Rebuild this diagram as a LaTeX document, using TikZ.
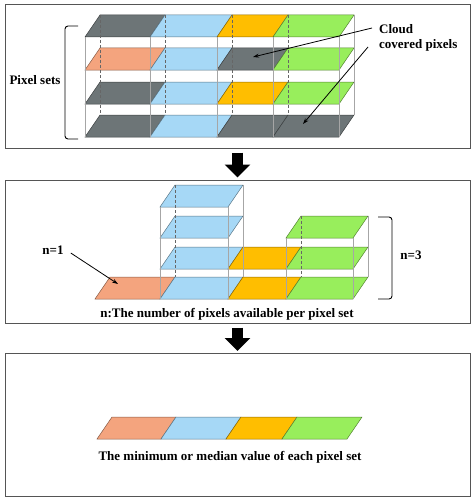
\documentclass[tikz,border=0pt]{standalone}
\usepackage{fontspec}
\setmainfont{Liberation Serif}
\usetikzlibrary{arrows.meta}

\definecolor{cloudgray}{RGB}{109,117,119}
\definecolor{skyblue}{RGB}{166,216,246}
\definecolor{amber}{RGB}{255,190,0}
\definecolor{lime}{RGB}{152,238,92}
\definecolor{salmon}{RGB}{244,164,126}
\definecolor{framegray}{RGB}{85,85,85}

\tikzset{
  panel/.style={draw=framegray, line width=1pt, minimum width=465pt, minimum height=143pt, inner sep=0pt},
  lbl/.style={font=\fontsize{13}{15}\selectfont\bfseries, inner sep=1pt},
  pillar/.style={draw=gray!70, line width=0.4pt},
  hiddenpillar/.style={draw=gray!80!black, line width=0.5pt, dashed, dash pattern=on 3pt off 2pt},
  pointer/.style={line width=0.8pt, -{Stealth[length=6pt,width=4pt]}},
  blockarrow/.style={line width=11pt, -{Triangle[width=25pt,length=13pt]}, shorten <=4pt, shorten >=2pt},
  setbracket/.style={line width=0.9pt, rounded corners=3pt}
}

% one pixel of a pixel set: front-left x, front-right x, front y, colour
\newcommand{\pixcell}[4]{%
  \filldraw[fill=#4, draw=#4!55!black, line width=0.5pt]
    (#1,#3) -- (#2,#3) -- (#2+15,#3-22) -- (#1+15,#3-22) -- cycle;}

\begin{document}
\begin{tikzpicture}[x=1pt, y=-1pt]
	\useasboundingbox (0,0) rectangle (474,503);

	\node[panel] (set1) at (237.5,76.5) {};
	\node[panel] (set2) at (237.5,251.5) {};
	\node[panel] (set3) at (237.5,425) {};

	% pixel sets
	\foreach \yb/\ca/\cb/\cc/\cd in {37/cloudgray/skyblue/amber/lime, 70/salmon/skyblue/cloudgray/lime,
	    104/cloudgray/skyblue/amber/lime, 137/cloudgray/skyblue/cloudgray/cloudgray}{
		\pixcell{85}{150}{\yb}{\ca}
		\pixcell{150}{217}{\yb}{\cb}
		\pixcell{217}{273}{\yb}{\cc}
		\pixcell{273}{339}{\yb}{\cd}
	}
	\foreach \x in {85,150,217,273,339} \draw[pillar] (\x,37) -- (\x,137);
	\foreach \x in {100,165,232,288} \draw[hiddenpillar] (\x,15) -- (\x,115);
	\draw[pillar] (354,15) -- (354,115);

	\draw[setbracket] (78,26) -- (65,26) -- (65,139) -- (78,139);
	\node[lbl] (sets) at (35,80) {Pixel sets};
	\node[lbl, anchor=west, align=left] (cloudlbl) at (378,38) {Cloud\\covered pixels};
	\coordinate (cloud1) at (253,57);
	\coordinate (cloud2) at (303,124);
	\draw[pointer] ([shift={(-6,-10)}]cloudlbl.west) -- (cloud1);
	\draw[pointer] ([shift={(-10,9)}]cloudlbl.west) -- (cloud2);

	% available pixels
	\pixcell{95}{160}{299}{salmon}
	\foreach \yb in {207,238,269,299} {\pixcell{160}{228}{\yb}{skyblue}}
	\foreach \yb in {269,299} {\pixcell{228}{286}{\yb}{amber}}
	\foreach \yb in {238,269,299} {\pixcell{286}{353}{\yb}{lime}}
	\foreach \x in {160,228} \draw[pillar] (\x,207) -- (\x,299);
	\draw[hiddenpillar] (175,185) -- (175,277);
	\draw[pillar] (243,185) -- (243,277);
	\foreach \x in {286,353} \draw[pillar] (\x,238) -- (\x,299);
	\draw[hiddenpillar] (301,216) -- (301,277);
	\draw[pillar] (368,216) -- (368,277);

	\draw[setbracket] (378,217) -- (392,217) -- (392,299) -- (378,299);
	\node[lbl] (n1) at (53,250) {n=1};
	\node[lbl] (n3) at (411,255) {n=3};
	\coordinate (single) at (118,284);
	\draw[pointer] ([shift={(6,3)}]n1.east) -- (single);
	\node[lbl] (note) at (227,314) {n:The number of pixels available per pixel set};

	% composite
	\pixcell{97}{161}{439}{salmon}
	\pixcell{161}{226}{439}{skyblue}
	\pixcell{226}{282}{439}{amber}
	\pixcell{282}{347}{439}{lime}
	\node[lbl] (result) at (230,457) {The minimum or median value of each pixel set};

	\draw[blockarrow] (set1.south) -- (set2.north);
	\draw[blockarrow] (set2.south) -- (set3.north);
\end{tikzpicture}
\end{document}
